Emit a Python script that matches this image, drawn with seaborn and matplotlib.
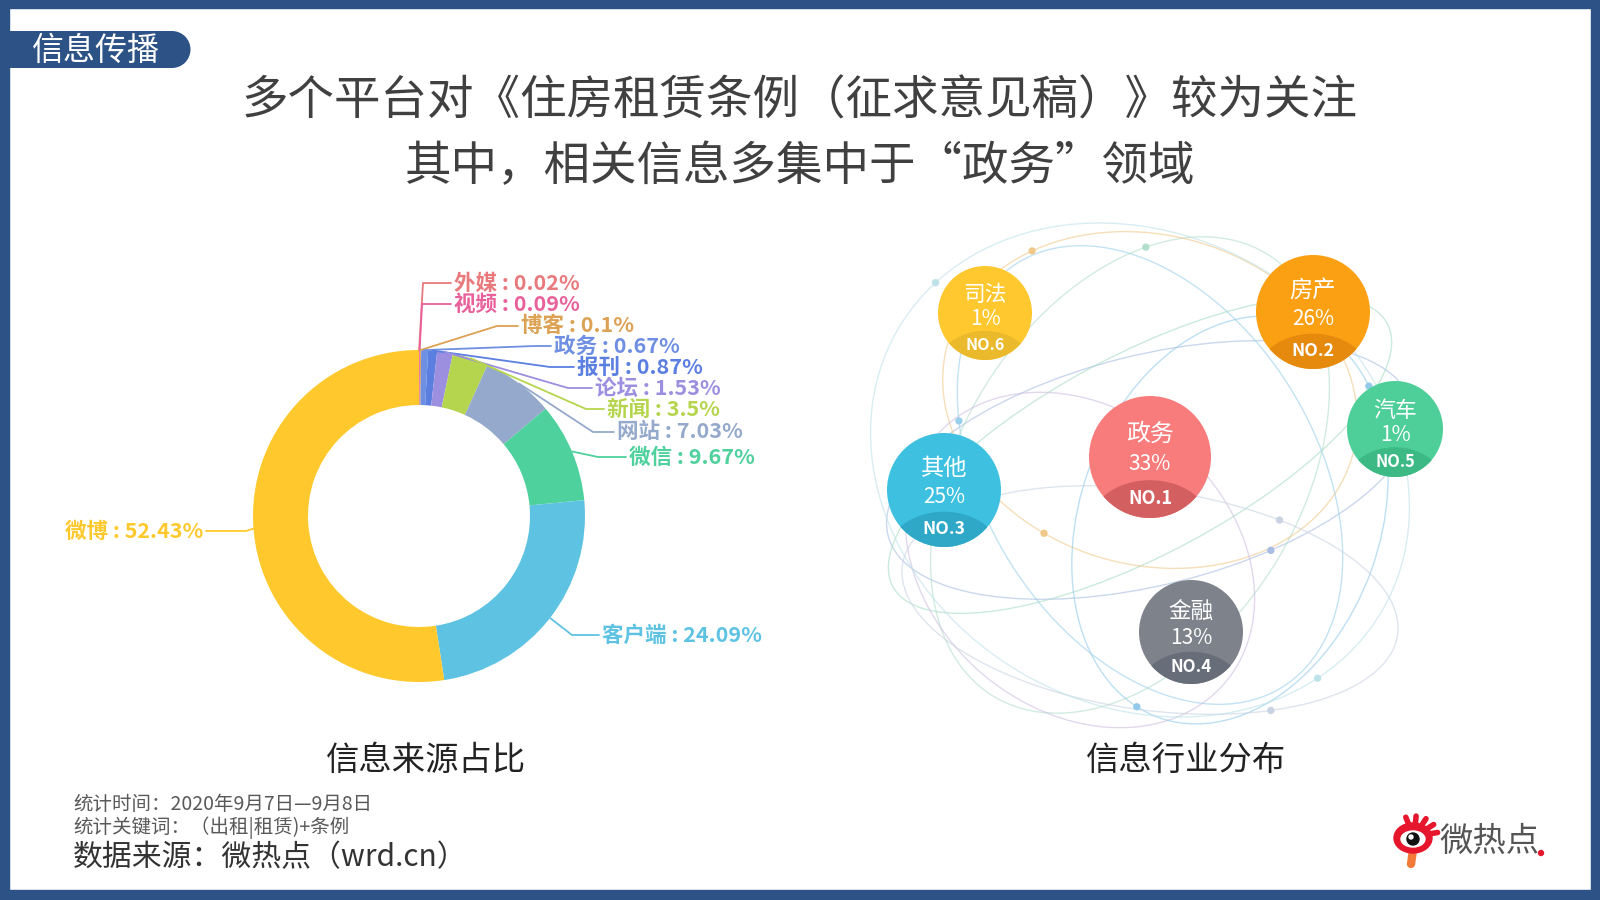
import numpy as np
import matplotlib
matplotlib.use("Agg")
import matplotlib.pyplot as plt
from matplotlib.patches import Rectangle, Circle, Ellipse
import seaborn as sns

# ---- data: information sources (donut) ----
source_names = ['外媒', '视频', '博客', '政务', '报刊', '论坛', '新闻', '网站', '微信', '客户端', '微博']
source_shares = [0.02, 0.09, 0.1, 0.67, 0.87, 1.53, 3.5, 7.03, 9.67, 24.09, 52.43]
source_colors = ['#e8797c', '#e8619b', '#dca153', '#6f8fe2', '#5b7fe0', '#9d8fe0',
                 '#b6d54e', '#94a9cb', '#4fd19d', '#5ec3e3', '#ffc92d']

# ---- data: industries (bubbles) ----
industry_names = ['政务', '房产', '其他', '金融', '汽车', '司法']
industry_shares = [33, 26, 25, 13, 1, 1]
industry_ranks = ['NO.1', 'NO.2', 'NO.3', 'NO.4', 'NO.5', 'NO.6']
industry_colors = ['#f77c7b', '#fca013', '#3ec1e1', '#7e828b', '#4ecf99', '#ffc82e']
industry_caps = ['#d35f60', '#e58a0d', '#2fa8c8', '#686d7a', '#3cb984', '#ebb92c']

# ---- layout (pixel coords, y down) ----
DONUT_C = (419, 516)
DONUT_R, DONUT_IN = 166, 111
# elbow point and text start for each donut label
label_elbow = [(423, 283), (422, 304), (497, 326), (535, 346), (550, 367), (568, 388),
               (586, 409), (593, 432), (598, 457), (572, 635), (246, 531)]
label_x = [454, 454, 521, 554, 577, 595, 607, 617, 629, 602, 203]

bubble_pos = [(1150, 457), (1313, 312), (944, 490), (1191, 632), (1395, 429), (985, 313)]
bubble_r = [61, 57, 57, 52, 48, 47]

# decorative orbits: centre, width, height, angle, colour
orbits = [
    ((1150, 470), 540, 230, -14, '#a9bde2'),
    ((1140, 455), 560, 200, -28, '#a9dcc8'),
    ((1150, 475), 500, 330, 58, '#9bd0ec'),
    ((1130, 475), 520, 340, -58, '#b3dfcc'),
    ((1150, 400), 420, 330, 15, '#f0c98a'),
    ((1080, 560), 380, 300, 40, '#cdbfe0'),
    ((1230, 520), 420, 300, -70, '#93caea'),
    ((1150, 600), 500, 220, 8, '#c9d3e2'),
    ((1140, 470), 560, 470, 30, '#bfe2ea'),
]
orbit_dots = [(0, 1.2), (1, 4.0), (2, 2.2), (3, 5.6), (4, 1.9), (4, 3.9),
              (5, 4.4), (6, 0.6), (6, 3.3), (7, 5.2), (7, 1.0), (8, 3.4), (8, 0.4)]

sns.set_theme(style="white")
plt.rcParams['font.family'] = ['Noto Sans CJK SC', 'DejaVu Sans']

fig = plt.figure(figsize=(16, 9), dpi=100)
ax = fig.add_axes([0, 0, 1, 1])

FRAME = '#2d5285'

# ---- donut ----
ax.pie(source_shares, colors=source_colors, startangle=-90, counterclock=True,
       center=DONUT_C, radius=DONUT_R,
       wedgeprops=dict(width=DONUT_R - DONUT_IN, edgecolor='none'))

fr = np.cumsum([0] + source_shares) / sum(source_shares)
for i, (name, val, col) in enumerate(zip(source_names, source_shares, source_colors)):
    mid = (fr[i] + fr[i + 1]) / 2 * 2 * np.pi
    sx = DONUT_C[0] + DONUT_R * np.sin(mid)
    sy = DONUT_C[1] - DONUT_R * np.cos(mid)
    ex, ey = label_elbow[i]
    tx = label_x[i]
    end = tx - 3 if tx > ex else tx + 3
    ax.plot([sx, ex, end], [sy, ey, ey], color=col, lw=1.3, zorder=3)
    ha = 'left' if tx > ex else 'right'
    ax.text(tx, ey, f'{name} : {val:g}%', color=col, fontsize=15.5, fontweight='bold',
            ha=ha, va='center', zorder=4)

# ---- orbits ----
for (c, w, h, ang, col) in orbits:
    ax.add_patch(Ellipse(c, w, h, angle=ang, fill=False, edgecolor=col, lw=1.0,
                         alpha=0.6, zorder=2))
dot_x, dot_y, dot_c = [], [], []
for k, t in orbit_dots:
    (cx, cy), w, h, ang, col = orbits[k]
    a = np.deg2rad(ang)
    px, py = w / 2 * np.cos(t), h / 2 * np.sin(t)
    dot_x.append(cx + px * np.cos(a) - py * np.sin(a))
    dot_y.append(cy + px * np.sin(a) + py * np.cos(a))
    dot_c.append(col)
sns.scatterplot(x=dot_x, y=dot_y, color=dot_c, s=28, ax=ax, zorder=3,
                edgecolor='none', legend=False)

# ---- bubbles ----
for name, val, rank, col, capc, (bx, by), br in zip(
        industry_names, industry_shares, industry_ranks, industry_colors,
        industry_caps, bubble_pos, bubble_r):
    circ = Circle((bx, by), br, color=col, zorder=5, lw=0)
    ax.add_patch(circ)
    cap = Ellipse((bx, by + 1.13 * br), 2.0 * br, 1.5 * br, color=capc, zorder=6, lw=0)
    ax.add_patch(cap)
    cap.set_clip_path(circ)
    ax.text(bx, by - 0.38 * br, name, color='white', fontsize=10.5 + 0.11 * br,
            ha='center', va='center', zorder=7)
    ax.text(bx, by + 0.12 * br, f'{val}%', color='white', fontsize=15,
            ha='center', va='center', zorder=7)
    ax.text(bx, by + 0.68 * br, rank, color='white', fontsize=7 + 0.1 * br,
            fontweight='bold', ha='center', va='center', zorder=7)

# ---- frame and header ----
ax.add_patch(Rectangle((0, 0), 1600, 8, color=FRAME, zorder=10))
ax.add_patch(Rectangle((0, 0), 9, 900, color=FRAME, zorder=10))
ax.add_patch(Rectangle((1591, 0), 9, 900, color=FRAME, zorder=10))
ax.add_patch(Rectangle((0, 890), 1600, 10, color=FRAME, zorder=10))
ax.add_patch(Rectangle((8, 31), 164, 37, color=FRAME, zorder=10, lw=0))
ax.add_patch(Circle((172, 49.5), 18.5, color=FRAME, zorder=10, lw=0))
ax.text(96, 51, '信息传播', color='white', fontsize=23, ha='center', va='center', zorder=11)

ax.text(800, 101, '多个平台对《住房租赁条例（征求意见稿）》较为关注', color='#404040',
        fontsize=33.5, ha='center', va='center')
ax.text(800, 167, '其中，相关信息多集中于“政务”领域', color='#404040',
        fontsize=33.5, ha='center', va='center')

ax.text(426, 760, '信息来源占比', color='#222222', fontsize=24, ha='center', va='center')
ax.text(1186, 760, '信息行业分布', color='#222222', fontsize=24, ha='center', va='center')

# ---- footer ----
ax.text(73, 804, '统计时间：2020年9月7日—9月8日', color='#595959', fontsize=14, va='center')
ax.text(73, 828, '统计关键词：（出租|租赁)+条例', color='#595959', fontsize=14, va='center')
ax.text(73, 858, '数据来源：微热点（wrd.cn）', color='#333333', fontsize=21.5, va='center')

# ---- logo ----
for ang in [10, 35, 60, 85, 110]:
    a = np.deg2rad(ang)
    ax.plot([1414 + 14 * np.cos(a), 1414 + 24 * np.cos(a)],
            [836 - 11 * np.sin(a), 836 - 20 * np.sin(a)],
            color='#e6162d', lw=4, solid_capstyle='round', zorder=10)
ax.plot([1413, 1411], [850, 864], color='#f47a3a', lw=6, solid_capstyle='round', zorder=10)
ax.add_patch(Ellipse((1413, 838), 38, 30, color='#e6162d', zorder=11))
ax.add_patch(Ellipse((1413, 839), 24, 16, color='white', zorder=12))
ax.add_patch(Circle((1413, 839), 6, color='#111111', zorder=13))
ax.add_patch(Circle((1411, 837), 2, color='white', zorder=14))
ax.text(1439, 841, '微热点', color='#555555', fontsize=24, va='center', zorder=10)
ax.add_patch(Circle((1541, 853), 2.5, color='#e6162d', zorder=10))

ax.set_xlim(0, 1600)
ax.set_ylim(900, 0)
ax.set_aspect('equal')
ax.axis('off')

fig.savefig('out.png', dpi=100)
